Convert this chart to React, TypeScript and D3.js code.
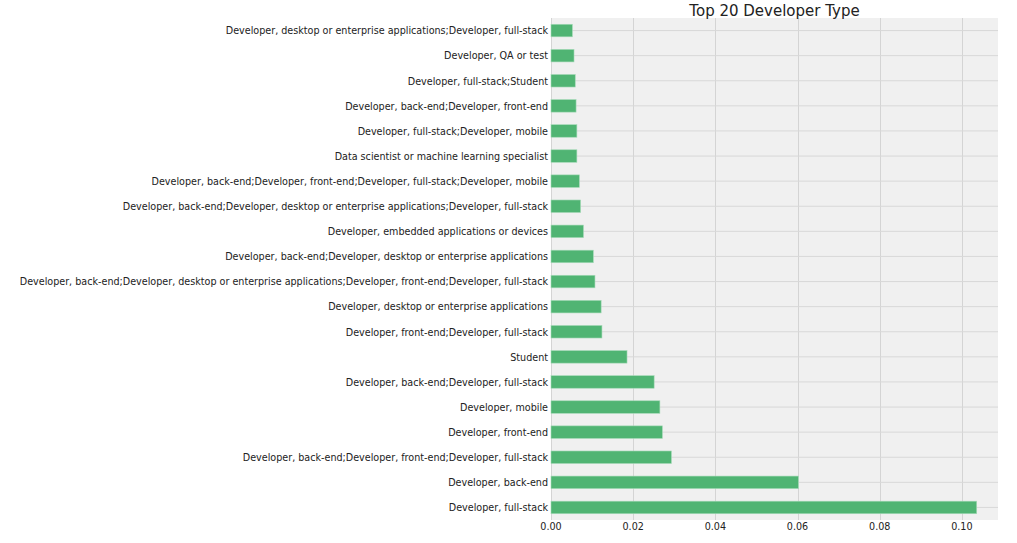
import { useEffect, useRef } from "react";
import * as d3 from "d3";

// categories from top to bottom, as in the picture
const categorias: string[] = [
  "Developer, desktop or enterprise applications;Developer, full-stack",
  "Developer, QA or test",
  "Developer, full-stack;Student",
  "Developer, back-end;Developer, front-end",
  "Developer, full-stack;Developer, mobile",
  "Data scientist or machine learning specialist",
  "Developer, back-end;Developer, front-end;Developer, full-stack;Developer, mobile",
  "Developer, back-end;Developer, desktop or enterprise applications;Developer, full-stack",
  "Developer, embedded applications or devices",
  "Developer, back-end;Developer, desktop or enterprise applications",
  "Developer, back-end;Developer, desktop or enterprise applications;Developer, front-end;Developer, full-stack",
  "Developer, desktop or enterprise applications",
  "Developer, front-end;Developer, full-stack",
  "Student",
  "Developer, back-end;Developer, full-stack",
  "Developer, mobile",
  "Developer, front-end",
  "Developer, back-end;Developer, front-end;Developer, full-stack",
  "Developer, back-end",
  "Developer, full-stack",
];

const valores: number[] = [
  0.0052, 0.0056, 0.0059, 0.0061, 0.0063, 0.0063, 0.0069, 0.0072, 0.0079, 0.0103,
  0.0107, 0.0122, 0.0124, 0.0185, 0.0251, 0.0265, 0.0271, 0.0293, 0.0602, 0.1036,
];

const ticksX: number[] = [0, 0.02, 0.04, 0.06, 0.08, 0.1];

const titulo = "Top 20 Developer Type";

const W = 1017;
const H = 543;
const FONTE = "'DejaVu Sans', sans-serif";

export default function App() {
  const svgRef = useRef<SVGSVGElement>(null);

  useEffect(() => {
    if (!svgRef.current) return;
    document.body.style.margin = "0";

    const svg = d3.select(svgRef.current);
    svg.selectAll("*").remove();

    const margin = { top: 18, right: 19, bottom: 23, left: 551 };
    const innerW = W - margin.left - margin.right;
    const innerH = H - margin.top - margin.bottom;

    svg.append("rect").attr("width", W).attr("height", H).attr("fill", "#ffffff");

    const g = svg.append("g").attr("transform", `translate(${margin.left},${margin.top})`);

    const x = d3.scaleLinear().domain([0, 0.1036 * 1.05]).range([0, innerW]);
    const y = d3
      .scaleBand<string>()
      .domain(categorias)
      .range([0, innerH])
      .paddingInner(0.5)
      .paddingOuter(0.25);

    // fundo do painel
    g.append("rect").attr("width", innerW).attr("height", innerH).attr("fill", "#f0f0f0");

    // grid vertical
    g.selectAll("line.vx")
      .data(ticksX)
      .enter()
      .append("line")
      .attr("x1", (d) => Math.round(x(d)) + 0.5)
      .attr("x2", (d) => Math.round(x(d)) + 0.5)
      .attr("y1", 0)
      .attr("y2", innerH)
      .attr("stroke", "#d4d4d4")
      .attr("stroke-width", 1);

    // grid horizontal
    g.selectAll("line.hy")
      .data(categorias)
      .enter()
      .append("line")
      .attr("x1", 0)
      .attr("x2", innerW)
      .attr("y1", (d) => (y(d) ?? 0) + y.bandwidth() / 2)
      .attr("y2", (d) => (y(d) ?? 0) + y.bandwidth() / 2)
      .attr("stroke", "#d8d8d8")
      .attr("stroke-width", 1);

    // barras
    g.selectAll("rect.bar")
      .data(categorias)
      .enter()
      .append("rect")
      .attr("x", x(0))
      .attr("y", (d) => y(d) ?? 0)
      .attr("width", (_, i) => x(valores[i]) - x(0))
      .attr("height", y.bandwidth())
      .attr("fill", "#50b473")
      .attr("stroke", "#a6dab8")
      .attr("stroke-width", 0.6);

    // rótulos do eixo Y
    g.selectAll("text.ylab")
      .data(categorias)
      .enter()
      .append("text")
      .attr("x", -3)
      .attr("y", (d) => (y(d) ?? 0) + y.bandwidth() / 2)
      .attr("dy", "0.4em")
      .attr("text-anchor", "end")
      .style("font-family", FONTE)
      .style("font-size", "9.6px")
      .attr("fill", "#222")
      .text((d) => d);

    // rótulos do eixo X
    g.selectAll("text.xlab")
      .data(ticksX)
      .enter()
      .append("text")
      .attr("x", (d) => x(d))
      .attr("y", innerH + 10)
      .attr("text-anchor", "middle")
      .style("font-family", FONTE)
      .style("font-size", "9.6px")
      .attr("fill", "#222")
      .text((d) => d.toFixed(2));

    // título
    svg
      .append("text")
      .attr("x", margin.left + innerW / 2)
      .attr("y", 16)
      .attr("text-anchor", "middle")
      .style("font-family", FONTE)
      .style("font-size", "15px")
      .attr("fill", "#222")
      .text(titulo);
  }, []);

  return (
    <div style={{ position: "absolute", left: 0, top: 0 }}>
      <svg ref={svgRef} width={W} height={H} style={{ display: "block" }} />
    </div>
  );
}
